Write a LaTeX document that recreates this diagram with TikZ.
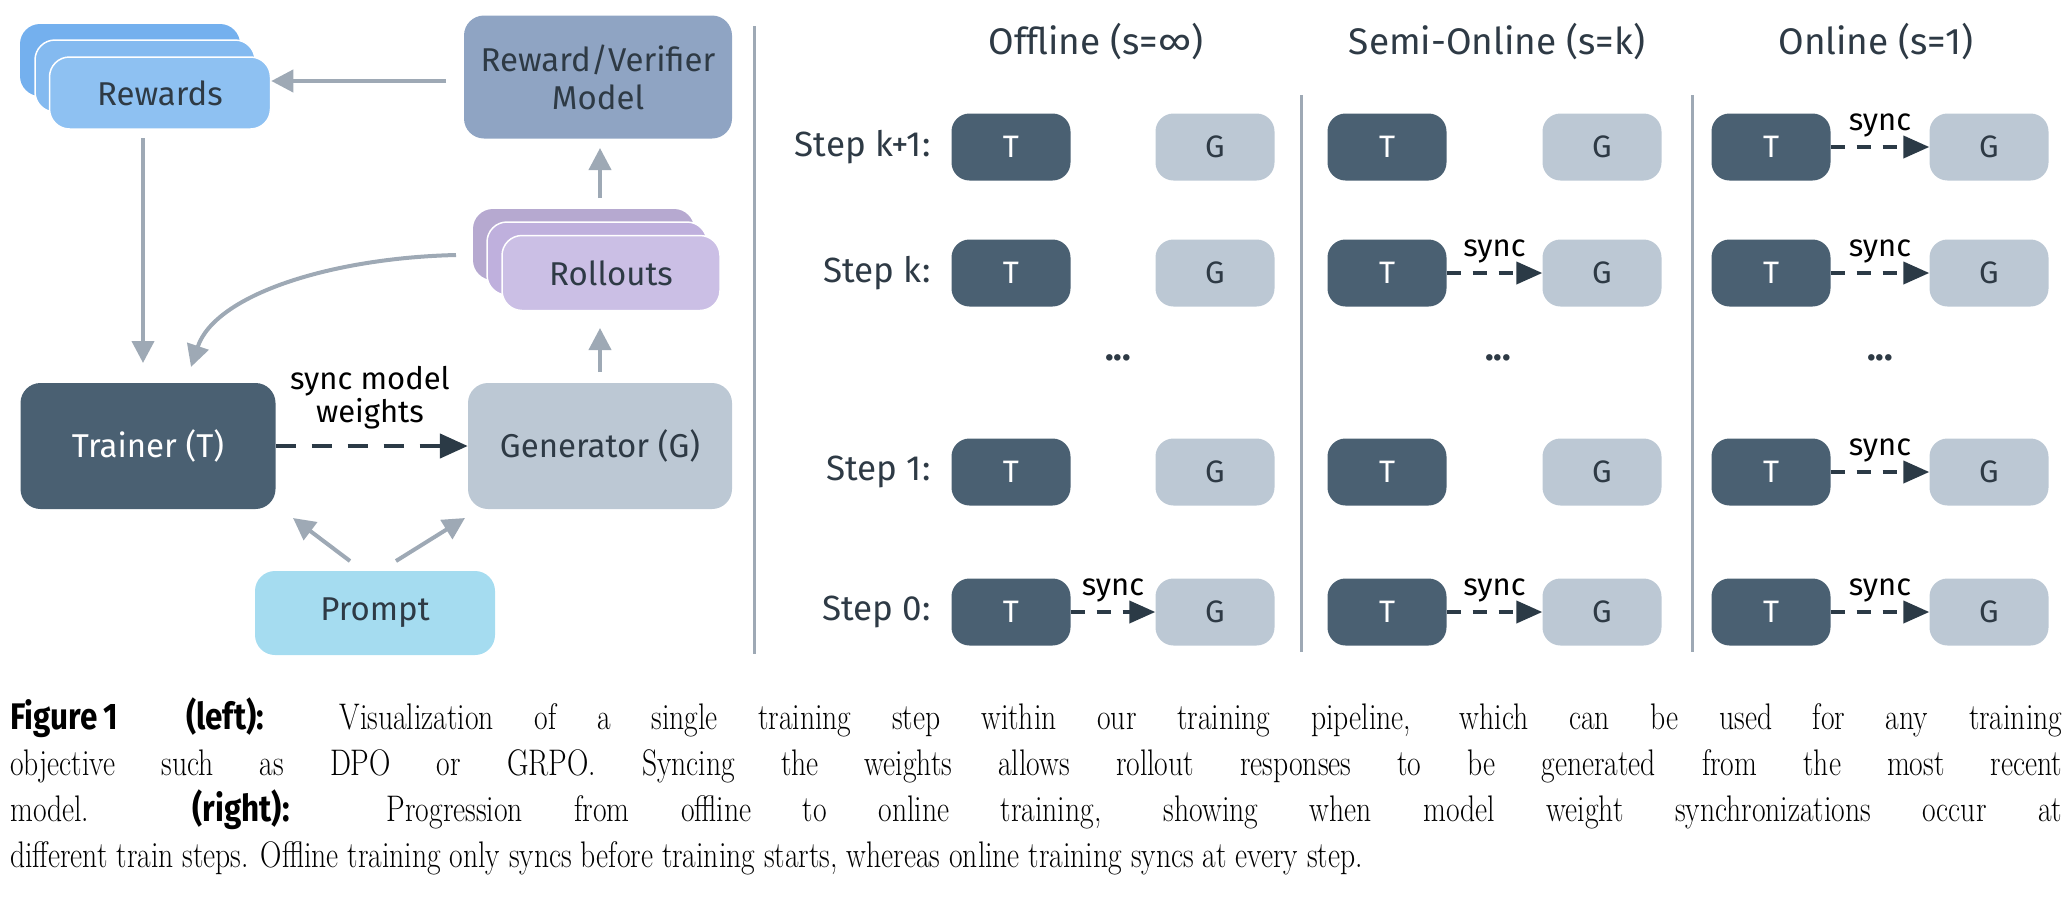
\documentclass[tikz,border=0pt]{standalone}
\usepackage{fontspec}
\setsansfont{Fira Sans}
\setmainfont{Latin Modern Roman}[FakeStretch=0.8]
\newfontfamily\capbf{Fira Sans}[FakeStretch=0.85]
\usetikzlibrary{arrows.meta}
\definecolor{rwA}{HTML}{74B0EE}\definecolor{rwB}{HTML}{84BAF0}\definecolor{rwC}{HTML}{8EC1F2}
\definecolor{rv}{HTML}{8FA4C3}
\definecolor{roA}{HTML}{B6A9D0}\definecolor{roB}{HTML}{BFB0DD}\definecolor{roC}{HTML}{CBBFE5}
\definecolor{tr}{HTML}{4A6072}\definecolor{gen}{HTML}{BCC8D4}\definecolor{pr}{HTML}{A5DCF0}
\definecolor{garr}{HTML}{9EA9B5}\definecolor{darr}{HTML}{2B3A46}\definecolor{txt}{HTML}{2E3A45}
\begin{document}
\begin{tikzpicture}[x=1pt,y=-1pt,
  box/.style={rounded corners=20pt,inner sep=0pt,text=txt,font=\sffamily\fontsize{33}{38}\selectfont,align=center},
  sbox/.style={rounded corners=18pt,inner sep=0pt,minimum width=119pt,minimum height=67pt,font=\sffamily\fontsize{31}{34}\selectfont},
  tb/.style={sbox,fill=tr,text=white},
  gb/.style={sbox,fill=gen,text=txt},
  garrow/.style={draw=garr,line width=4pt,-{Triangle[width=22pt,length=22pt]}},
  sync/.style={draw=darr,line width=4.5pt,dash pattern=on 20pt off 16pt,-{Triangle[width=24pt,length=28pt]}},
  lab/.style={font=\sffamily\fontsize{31}{33}\selectfont,text=black},
  hdr/.style={font=\sffamily\fontsize{37}{40}\selectfont,text=txt},
  stp/.style={font=\sffamily\fontsize{35}{38}\selectfont,text=txt,anchor=east}]
\useasboundingbox (0,0) rectangle (2072,900);
% left
\fill[rwA,rounded corners=20pt] (20,24) rectangle (240,96);
\fill[rwB,rounded corners=20pt,draw=white,line width=1.5pt] (35,40) rectangle (255,112);
\node[box,fill=rwC,draw=white,line width=1.5pt,minimum width=221pt,minimum height=72pt] (rew) at (160,93) {Rewards};
\node[box,fill=rv,minimum width=268pt,minimum height=123pt] (rv) at (598,77) {Reward/Verifier\\Model};
\fill[roA,rounded corners=20pt] (473,209) rectangle (694,280);
\fill[roB,rounded corners=20pt,draw=white,line width=1.5pt] (487,222) rectangle (707,295);
\node[box,fill=roC,draw=white,line width=1.5pt,minimum width=218pt,minimum height=75pt] (roll) at (611,273) {Rollouts};
\node[box,fill=tr,text=white,minimum width=255pt,minimum height=126pt] (tra) at (148,446) {Trainer (T)};
\node[box,fill=gen,minimum width=264pt,minimum height=126pt] (gene) at (600,446) {Generator (G)};
\node[box,fill=pr,minimum width=240pt,minimum height=84pt] (pro) at (375,613) {Prompt};
\coordinate (r1) at (446,81);
\draw[garrow] (r1) -- (rew.east|-r1);
\coordinate (r2) at (143,138);
\draw[garrow] (r2) -- (143,363);
\draw[garrow] (600,372) -- (600,328);
\draw[garrow] (600,198) -- (600,148);
\coordinate (cs) at (456,255);
\draw[garrow] (cs) .. controls (330,258) and (215,295) .. (191,367);
\draw[sync] (tra.east) -- (gene.west);
\node[lab,align=center] (smw) at (370,398) {sync model\\weights};
\coordinate (p1) at (350,561); \coordinate (p2) at (396,561);
\draw[garrow] (p1) -- (293,518);
\draw[garrow] (p2) -- (465,518);
\draw[garr,line width=3pt] (754,26) -- (754,654);
% right
\node[hdr] (h1) at (1096,42) {Offline (s=∞)};
\node[hdr] (h2) at (1497,42) {Semi-Online (s=k)};
\node[hdr] (h3) at (1876,42) {Online (s=1)};
\draw[garr,line width=3pt] (1301,95) -- (1301,652);
\draw[garr,line width=3pt] (1692,95) -- (1692,652);
\foreach \y/\n/\s in {147/a/Step k+1:,273/b/Step k:,472/c/Step 1:,612/d/Step 0:}{
  \node[stp] (s\n) at (934,\y) {\s};
  \node[tb] (oT\n) at (1011,\y) {T}; \node[gb] (oG\n) at (1215,\y) {G};
  \node[tb] (sT\n) at (1387,\y) {T}; \node[gb] (sG\n) at (1602,\y) {G};
  \node[tb] (nT\n) at (1771,\y) {T}; \node[gb] (nG\n) at (1989,\y) {G};
}
\foreach \x/\n in {1118/o,1498/s,1880/n}{\node[font=\sffamily\bfseries\fontsize{36}{36}\selectfont,text=txt] (dots\n) at (\x,358) {...};}
\foreach \a/\b in {oTd/oGd,sTb/sGb,sTd/sGd,nTa/nGa,nTb/nGb,nTc/nGc,nTd/nGd}{
  \draw[sync,line width=4pt,dash pattern=on 14pt off 12pt,-{Triangle[width=22pt,length=26pt]}] (\a.east) -- (\b.west);
  \path (\a.east) -- node[lab,above=6pt] {sync} (\b.west);
}
% caption
\node[anchor=north west,text width=2052pt,inner sep=0pt,font=\fontsize{37}{46}\selectfont,align=justify] (cap) at (10,698) {%
{\capbf\bfseries Figure\,1\ \ (left):} Visualization of a single training step within our training pipeline, which can be used for any training\linebreak
objective such as DPO or GRPO. Syncing the weights allows rollout responses to be generated from the most recent\linebreak
model.\ \ {\capbf\bfseries (right):} Progression from offline to online training, showing when model weight synchronizations occur at\linebreak
different train steps. Offline training only syncs before training starts, whereas online training syncs at every step.};
\end{tikzpicture}
\end{document}
